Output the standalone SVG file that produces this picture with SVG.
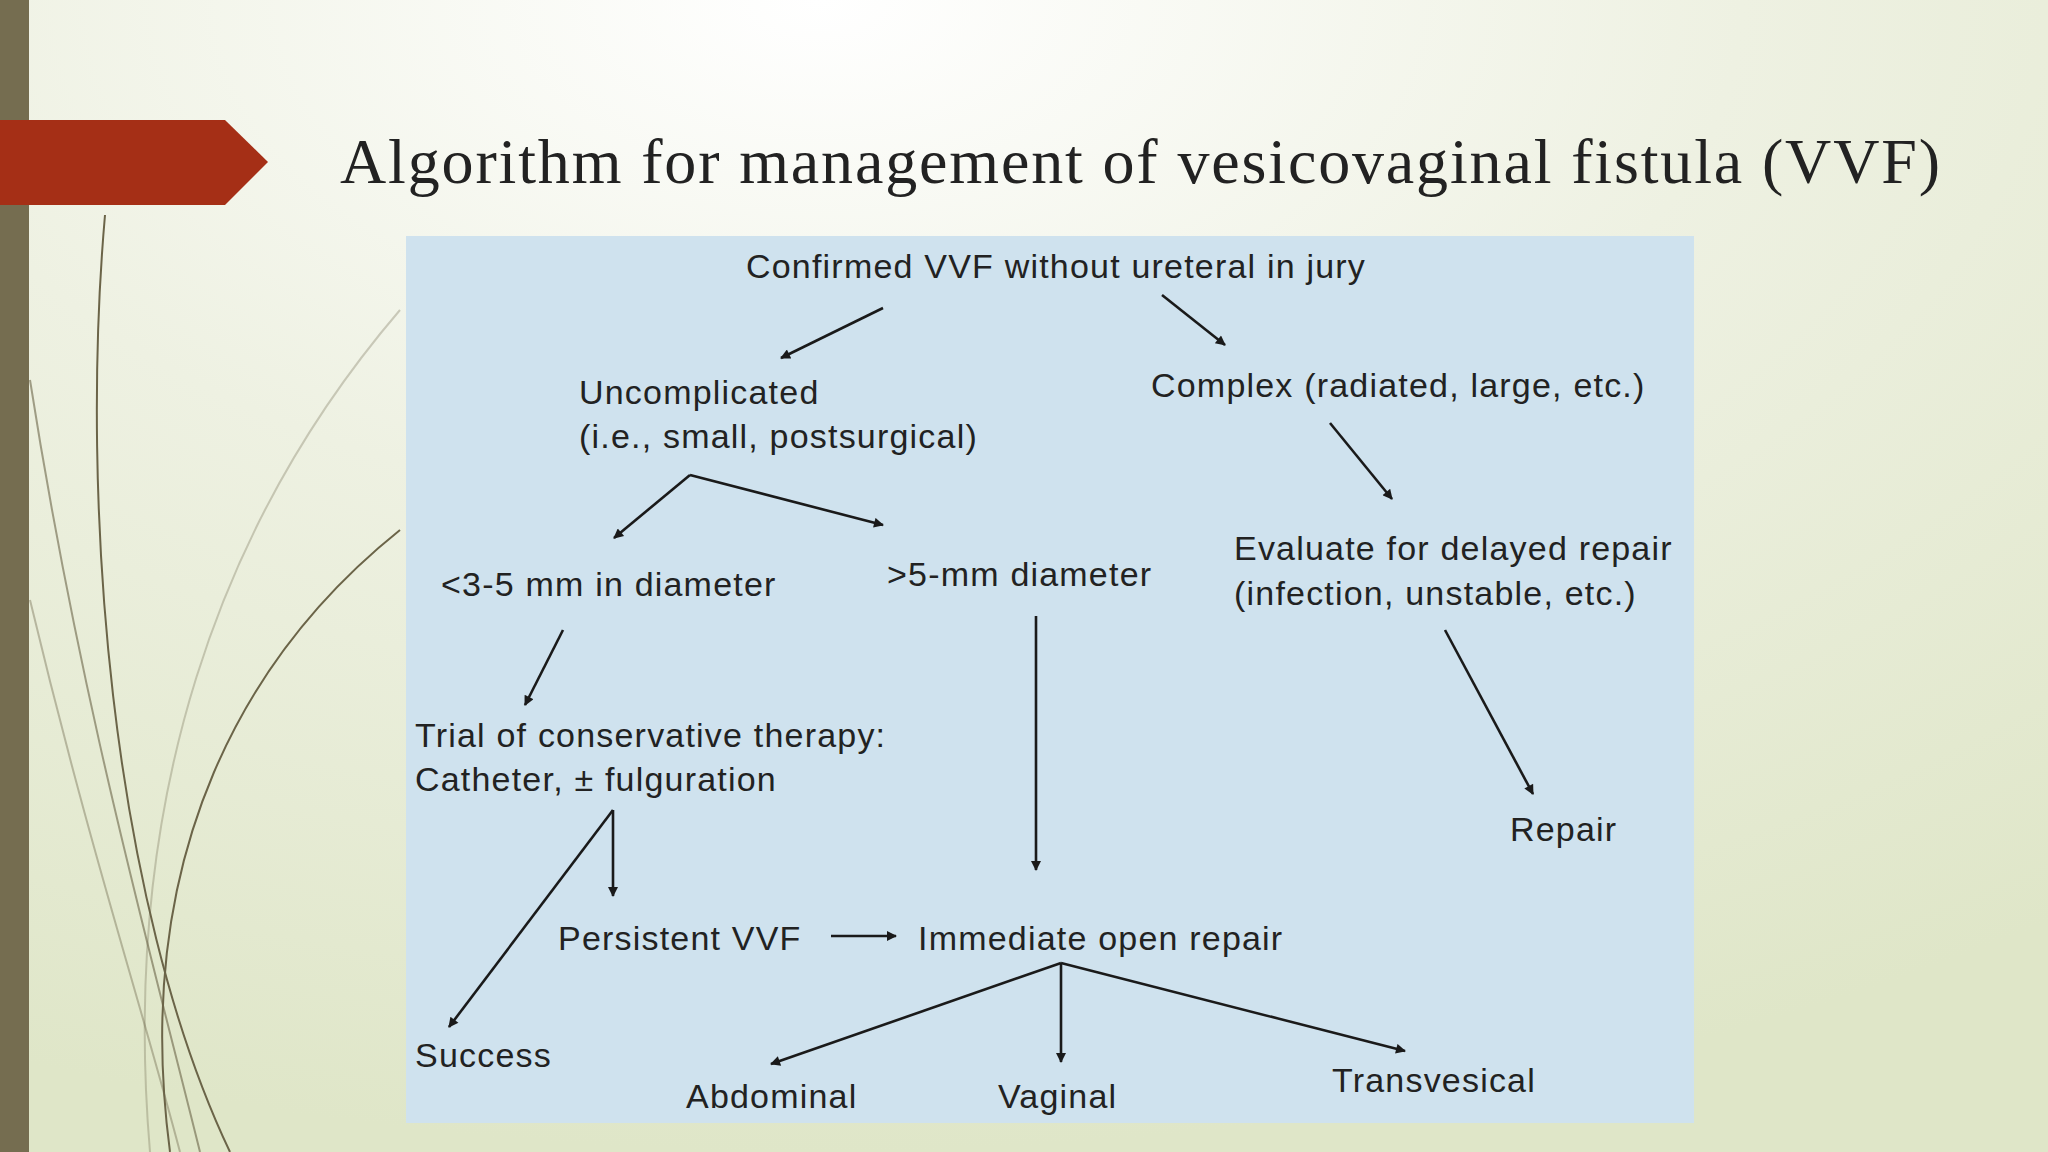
<svg xmlns="http://www.w3.org/2000/svg" width="2048" height="1152" viewBox="0 0 2048 1152">
<defs>
<radialGradient id="bg" cx="0.4" cy="0" r="1">
<stop offset="0" stop-color="#ffffff"/>
<stop offset="0.45" stop-color="#eef1e2"/>
<stop offset="1" stop-color="#dfe6c8"/>
</radialGradient>
<marker id="ah" viewBox="0 0 10 10" refX="9" refY="5" markerWidth="12" markerHeight="10" orient="auto" markerUnits="userSpaceOnUse">
<path d="M0,0 L10,5 L0,10 z" fill="#1a1a1a"/>
</marker>
<style>
.t{font-family:"Liberation Sans",Arial,sans-serif;font-size:34px;letter-spacing:1.2px;fill:#222}
.c line{stroke:#1a1a1a;stroke-width:2.6;marker-end:url(#ah)}
.d{fill:none;stroke:#6b6448;stroke-width:2}
</style>
</defs>
<rect width="2048" height="1152" fill="url(#bg)"/>
<g id="decor">
<path class="d" d="M105,215 C80,500 110,900 230,1152"/>
<path class="d" d="M30,380 C80,700 150,950 200,1152" opacity="0.6"/>
<path class="d" d="M400,530 C250,650 130,850 170,1152"/>
<path class="d" d="M400,310 C220,520 120,800 150,1152" opacity="0.3"/>
<path class="d" d="M30,600 C90,850 140,1000 180,1152" opacity="0.4"/>
</g>
<rect x="0" y="0" width="29" height="1152" fill="#756d50"/>
<path d="M0,120 L225,120 L268,162 L225,205 L0,205 z" fill="#a52f16"/>
<text x="340" y="183" font-family="Liberation Serif,Times New Roman,serif" font-size="64" fill="#222" textLength="1600">Algorithm for management of vesicovaginal fistula (VVF)</text>
<rect id="panel" x="406" y="236" width="1288" height="887" fill="#cfe2ee"/>
<g id="nodes">
<g id="n1"><text class="t" x="746" y="278">Confirmed VVF without ureteral in jury</text></g>
<g id="n2"><text class="t" x="579" y="404">Uncomplicated</text><text class="t" x="579" y="448">(i.e., small, postsurgical)</text></g>
<g id="n3"><text class="t" x="1151" y="397">Complex (radiated, large, etc.)</text></g>
<g id="n4"><text class="t" x="441" y="596">&lt;3-5 mm in diameter</text></g>
<g id="n5"><text class="t" x="887" y="586">&gt;5-mm diameter</text></g>
<g id="n6"><text class="t" x="1234" y="560">Evaluate for delayed repair</text><text class="t" x="1234" y="605">(infection, unstable, etc.)</text></g>
<g id="n7"><text class="t" x="415" y="747">Trial of conservative therapy:</text><text class="t" x="415" y="791">Catheter, ± fulguration</text></g>
<g id="n8"><text class="t" x="1510" y="841">Repair</text></g>
<g id="n9"><text class="t" x="558" y="950">Persistent VVF</text></g>
<g id="n10"><text class="t" x="918" y="950">Immediate open repair</text></g>
<g id="n11"><text class="t" x="415" y="1067">Success</text></g>
<g id="n12"><text class="t" x="686" y="1108">Abdominal</text></g>
<g id="n13"><text class="t" x="998" y="1108">Vaginal</text></g>
<g id="n14"><text class="t" x="1332" y="1092">Transvesical</text></g>
</g>
<g id="connectors" class="c">
<line x1="883" y1="308" x2="781" y2="358"/>
<line x1="1162" y1="295" x2="1225" y2="345"/>
<line x1="690" y1="475" x2="614" y2="538"/>
<line x1="690" y1="475" x2="883" y2="525"/>
<line x1="1330" y1="423" x2="1392" y2="499"/>
<line x1="563" y1="630" x2="525" y2="705"/>
<line x1="1036" y1="616" x2="1036" y2="870"/>
<line x1="1445" y1="630" x2="1533" y2="794"/>
<line x1="613" y1="810" x2="613" y2="896"/>
<line x1="613" y1="810" x2="449" y2="1027"/>
<line x1="831" y1="936" x2="896" y2="936"/>
<line x1="1061" y1="963" x2="771" y2="1064"/>
<line x1="1061" y1="963" x2="1061" y2="1062"/>
<line x1="1061" y1="963" x2="1405" y2="1051"/>
</g>
</svg>
